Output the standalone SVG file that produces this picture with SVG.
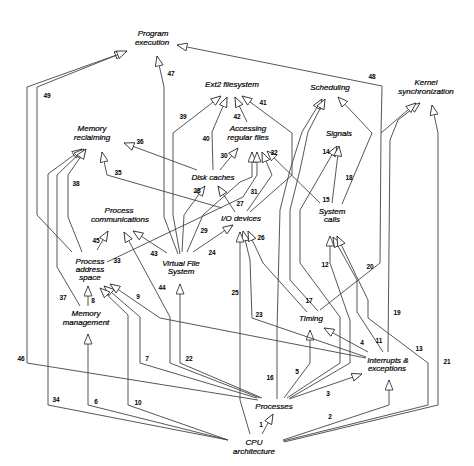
<svg xmlns="http://www.w3.org/2000/svg" width="474" height="466" viewBox="0 0 474 466">
<style>
.n{font-family:"Liberation Sans",Arial,sans-serif;font-size:8px;font-style:italic;fill:#000;stroke:#000;stroke-width:0.2;text-anchor:middle}
.l{font-family:"Liberation Sans",Arial,sans-serif;font-size:6.5px;font-weight:bold;fill:#000;text-anchor:middle}
.e{fill:none;stroke:#444;stroke-width:0.9;marker-end:url(#ah)}
</style>
<defs>
<marker id="ah" markerUnits="userSpaceOnUse" markerWidth="11" markerHeight="9" viewBox="0 0 11 9" refX="10.5" refY="4.5" orient="auto">
<path d="M0.5,0.5 L10.5,4.5 L0.5,8.5 z" fill="#fff" stroke="#222" stroke-width="0.8"/>
</marker>
</defs>
<rect width="474" height="466" fill="#fff"/>
<g id="connectors">
<polyline class="e" points="262,434 273,414"/>
<polyline class="e" points="283,440 389,405 389,380"/>
<polyline class="e" points="289,399 362,374"/>
<polyline class="e" points="368,352 324,328"/>
<polyline class="e" points="284,398 310,363 310,330"/>
<polyline class="e" points="228,440 88,405 88,334"/>
<polyline class="e" points="257,398 140,363 140,317 104,286"/>
<polyline class="e" points="88,306 88,286"/>
<polyline class="e" points="366,358 160,318 110,284"/>
<polyline class="e" points="228,440 128,405 128,315 100,288"/>
<polyline class="e" points="383,352 357,312 357,280 333,237"/>
<polyline class="e" points="290,398 350,363 350,320 348,315 330,263 330,236"/>
<polyline class="e" points="283,441 428,405 428,363 368,318 368,300 337,236"/>
<polyline class="e" points="287,398 340,363 340,317 300,263 300,210 337,146"/>
<polyline class="e" points="332,203 339,146"/>
<polyline class="e" points="277,399 277,330 280,210 290,170 302,132 322,99"/>
<polyline class="e" points="318,311 290,280 290,210 300,170 308,132 325,99"/>
<polyline class="e" points="342,204 372,133 338,97"/>
<polyline class="e" points="388,352 390,140 398,120 420,103"/>
<polyline class="e" points="320,310 380,263 381,133 416,103"/>
<polyline class="e" points="284,442 438,405 438,133 432,105"/>
<polyline class="e" points="262,398 180,363 180,284"/>
<polyline class="e" points="366,357 252,318 250,260 243,231"/>
<polyline class="e" points="193,252 233,225"/>
<polyline class="e" points="250,434 240,400 240,232"/>
<polyline class="e" points="307,312 263,263 248,231"/>
<polyline class="e" points="235,212 218,186"/>
<polyline class="e" points="182,252 184,215 205,186"/>
<polyline class="e" points="187,252 203,215 240,182 252,177 252,152"/>
<polyline class="e" points="220,170 238,148"/>
<polyline class="e" points="247,211 272,175 262,152"/>
<polyline class="e" points="320,203 267,151"/>
<polyline class="e" points="107,262 243,197 257,175 257,152"/>
<polyline class="e" points="228,440 48,405 48,174 82,149"/>
<polyline class="e" points="222,208 107,175 102,152"/>
<polyline class="e" points="197,170 124,143"/>
<polyline class="e" points="80,306 57,267 57,175 84,149"/>
<polyline class="e" points="82,252 68,217 68,175 86,149"/>
<polyline class="e" points="180,254 173,215 173,133 221,96"/>
<polyline class="e" points="213,170 212,132 227,97"/>
<polyline class="e" points="250,212 292,175 292,133 242,96"/>
<polyline class="e" points="247,122 235,97"/>
<polyline class="e" points="167,253 133,231"/>
<polyline class="e" points="260,398 170,363 170,317 124,232"/>
<polyline class="e" points="97,250 108,231"/>
<polyline class="e" points="258,400 27,363 27,87 125,52"/>
<polyline class="e" points="178,254 164,217 164,87 157,56"/>
<polyline class="e" points="381,133 382,86 177,45"/>
<polyline class="e" points="72,252 37,215 37,87 127,51"/>
<text class="l" x="261" y="427">1</text>
<text class="l" x="330" y="419">2</text>
<text class="l" x="328" y="396">3</text>
<text class="l" x="362" y="345">4</text>
<text class="l" x="297" y="374">5</text>
<text class="l" x="96" y="404">6</text>
<text class="l" x="147" y="361">7</text>
<text class="l" x="93" y="303">8</text>
<text class="l" x="138" y="299">9</text>
<text class="l" x="138" y="405">10</text>
<text class="l" x="379" y="343">11</text>
<text class="l" x="325" y="267">12</text>
<text class="l" x="419" y="351">13</text>
<text class="l" x="326" y="154">14</text>
<text class="l" x="326" y="202">15</text>
<text class="l" x="270" y="380">16</text>
<text class="l" x="309" y="303">17</text>
<text class="l" x="349" y="180">18</text>
<text class="l" x="397" y="315">19</text>
<text class="l" x="370" y="269">20</text>
<text class="l" x="447" y="364">21</text>
<text class="l" x="189" y="361">22</text>
<text class="l" x="259" y="317">23</text>
<text class="l" x="212" y="255">24</text>
<text class="l" x="235" y="295">25</text>
<text class="l" x="261" y="240">26</text>
<text class="l" x="240" y="206">27</text>
<text class="l" x="197" y="193">28</text>
<text class="l" x="204" y="233">29</text>
<text class="l" x="224" y="158">30</text>
<text class="l" x="254" y="194">31</text>
<text class="l" x="274" y="155">32</text>
<text class="l" x="117" y="263">33</text>
<text class="l" x="56" y="402">34</text>
<text class="l" x="118" y="175">35</text>
<text class="l" x="140" y="144">36</text>
<text class="l" x="63" y="300">37</text>
<text class="l" x="76" y="186">38</text>
<text class="l" x="183" y="119">39</text>
<text class="l" x="206" y="141">40</text>
<text class="l" x="263" y="105">41</text>
<text class="l" x="237" y="119">42</text>
<text class="l" x="154" y="256">43</text>
<text class="l" x="162" y="290">44</text>
<text class="l" x="96" y="243">45</text>
<text class="l" x="21" y="361">46</text>
<text class="l" x="171" y="76">47</text>
<text class="l" x="372" y="79">48</text>
<text class="l" x="47" y="98">49</text>
</g>
<g id="program-execution"><text class="n" x="153" y="36">Program</text><text class="n" x="152" y="45">execution</text></g>
<g id="ext2-filesystem"><text class="n" x="232" y="87">Ext2 filesystem</text></g>
<g id="scheduling"><text class="n" x="330" y="90">Scheduling</text></g>
<g id="kernel-synchronization"><text class="n" x="426" y="85">Kernel</text><text class="n" x="426" y="94">synchronization</text></g>
<g id="memory-reclaiming"><text class="n" x="92" y="131">Memory</text><text class="n" x="92" y="140">reclaiming</text></g>
<g id="accessing-regular-files"><text class="n" x="248" y="131">Accessing</text><text class="n" x="248" y="140">regular files</text></g>
<g id="signals"><text class="n" x="339" y="136">Signals</text></g>
<g id="disk-caches"><text class="n" x="213" y="180">Disk caches</text></g>
<g id="process-communications"><text class="n" x="119" y="213">Process</text><text class="n" x="120" y="222">communications</text></g>
<g id="io-devices"><text class="n" x="241" y="221">I/O devices</text></g>
<g id="system-calls"><text class="n" x="332" y="214">System</text><text class="n" x="332" y="222">calls</text></g>
<g id="process-address-space"><text class="n" x="90" y="264">Process</text><text class="n" x="90" y="272">address</text><text class="n" x="90" y="280">space</text></g>
<g id="virtual-file-system"><text class="n" x="181" y="266">Virtual File</text><text class="n" x="181" y="274">System</text></g>
<g id="memory-management"><text class="n" x="86" y="316">Memory</text><text class="n" x="86" y="325">management</text></g>
<g id="timing"><text class="n" x="311" y="321">Timing</text></g>
<g id="interrupts-exceptions"><text class="n" x="388" y="363">Interrupts &amp;</text><text class="n" x="387" y="371">exceptions</text></g>
<g id="processes"><text class="n" x="274" y="409">Processes</text></g>
<g id="cpu-architecture"><text class="n" x="254" y="445">CPU</text><text class="n" x="254" y="454">architecture</text></g>
</svg>
